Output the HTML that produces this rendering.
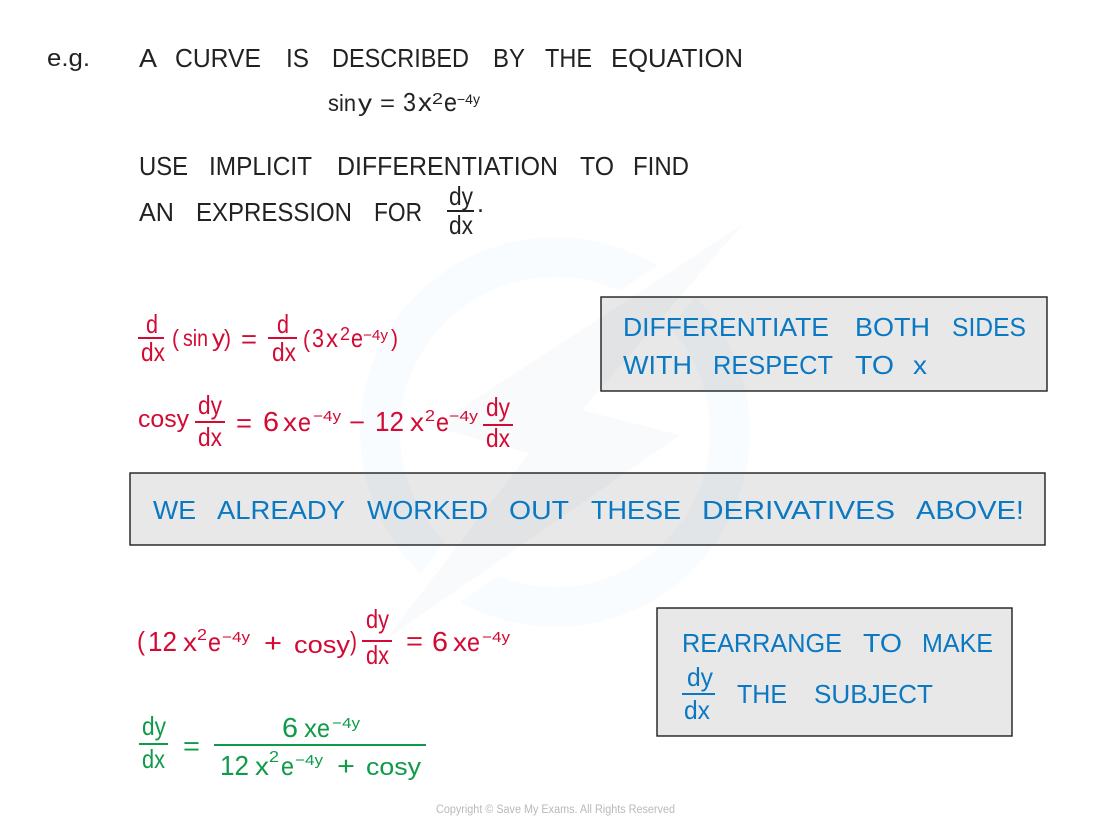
<!DOCTYPE html>
<html lang="en">
<head>
<meta charset="utf-8">
<title>Implicit differentiation example</title>
<style>
html,body{margin:0;padding:0;background:#fff}
svg{display:block}
text{font-family:"Liberation Sans",sans-serif;font-size:26px}
.k{fill:#222}
.r{fill:#d20a34}
.b{fill:#0a78c2}
.g{fill:#0f9b49}
.s{font-size:15px}
.q{font-size:16px}
.c{font-size:11.5px;fill:#b9b9b9}
</style>
</head>
<body>
<svg width="1100" height="832" viewBox="0 0 1100 832" xmlns="http://www.w3.org/2000/svg">
<defs>
<mask id="m" maskUnits="userSpaceOnUse" x="0" y="0" width="1100" height="832">
<rect width="1100" height="832" fill="#fff"/>
<polygon points="742,225 433,427 529,453 385,640 680,435 582,410" fill="#000" stroke="#000" stroke-width="24" stroke-linejoin="round"/>
</mask>
</defs>

<rect x="601" y="297" width="446" height="94" fill="#e8e8e8" stroke="#1e1e1e" stroke-width="1.4"/>
<rect x="130" y="473" width="915" height="72" fill="#e8e8e8" stroke="#1e1e1e" stroke-width="1.4"/>
<rect x="657" y="608" width="355" height="128" fill="#e8e8e8" stroke="#1e1e1e" stroke-width="1.4"/>

<circle cx="555" cy="432" r="175" fill="none" stroke="#0078c8" stroke-opacity=".022" stroke-width="40" mask="url(#m)"/>
<polygon points="742,225 433,427 529,453 385,640 680,435 582,410" fill="#003040" fill-opacity=".022"/>

<g class="k">
<text x="47" y="66" textLength="43" lengthAdjust="spacingAndGlyphs" style="font-size:24px">e.g.</text>
<text x="139" y="67" textLength="18" lengthAdjust="spacingAndGlyphs">A</text>
<text x="175" y="67" textLength="86" lengthAdjust="spacingAndGlyphs">CURVE</text>
<text x="286" y="67" textLength="23" lengthAdjust="spacingAndGlyphs">IS</text>
<text x="332" y="67" textLength="137" lengthAdjust="spacingAndGlyphs">DESCRIBED</text>
<text x="493" y="67" textLength="32" lengthAdjust="spacingAndGlyphs">BY</text>
<text x="545" y="67" textLength="47" lengthAdjust="spacingAndGlyphs">THE</text>
<text x="611" y="67" textLength="132" lengthAdjust="spacingAndGlyphs">EQUATION</text>

<text x="328" y="111" textLength="28" lengthAdjust="spacingAndGlyphs" style="font-size:23px">sin</text>
<text x="358" y="111" textLength="14" lengthAdjust="spacingAndGlyphs" style="font-size:23px">y</text>
<text x="380" y="111" textLength="15" lengthAdjust="spacingAndGlyphs" style="font-size:23px">=</text>
<text x="403" y="111" textLength="13" lengthAdjust="spacingAndGlyphs">3</text>
<text x="418" y="111" textLength="14" lengthAdjust="spacingAndGlyphs">x</text>
<text x="432" y="104" textLength="11" lengthAdjust="spacingAndGlyphs" class="q">2</text>
<text x="444" y="111" textLength="13" lengthAdjust="spacingAndGlyphs">e</text>
<text x="457" y="104" textLength="23" lengthAdjust="spacingAndGlyphs" style="font-size:14px">−4y</text>

<text x="139" y="175" textLength="49" lengthAdjust="spacingAndGlyphs">USE</text>
<text x="209" y="175" textLength="103" lengthAdjust="spacingAndGlyphs">IMPLICIT</text>
<text x="337" y="175" textLength="221" lengthAdjust="spacingAndGlyphs">DIFFERENTIATION</text>
<text x="580" y="175" textLength="34" lengthAdjust="spacingAndGlyphs">TO</text>
<text x="633" y="175" textLength="56" lengthAdjust="spacingAndGlyphs">FIND</text>

<text x="139" y="221" textLength="35" lengthAdjust="spacingAndGlyphs">AN</text>
<text x="196" y="221" textLength="156" lengthAdjust="spacingAndGlyphs">EXPRESSION</text>
<text x="374" y="221" textLength="48" lengthAdjust="spacingAndGlyphs">FOR</text>
<text x="449" y="205" textLength="24" lengthAdjust="spacingAndGlyphs">dy</text>
<rect x="447" y="210" width="27" height="2"/>
<text x="449" y="234" textLength="24" lengthAdjust="spacingAndGlyphs">dx</text>
<text x="477" y="212" textLength="7" lengthAdjust="spacingAndGlyphs">.</text>
</g>

<g class="r">
<text x="146" y="333" textLength="12" lengthAdjust="spacingAndGlyphs">d</text>
<rect x="138" y="337" width="26" height="2"/>
<text x="141" y="361" textLength="24" lengthAdjust="spacingAndGlyphs">dx</text>
<text x="172" y="346" textLength="7" lengthAdjust="spacingAndGlyphs" style="font-size:23px">(</text>
<text x="183" y="346" textLength="25" lengthAdjust="spacingAndGlyphs" style="font-size:23px">sin</text>
<text x="212" y="346" textLength="13" lengthAdjust="spacingAndGlyphs" style="font-size:23px">y</text>
<text x="224" y="346" textLength="7" lengthAdjust="spacingAndGlyphs" style="font-size:23px">)</text>
<text x="241" y="348" textLength="16" lengthAdjust="spacingAndGlyphs">=</text>
<text x="277" y="333" textLength="12" lengthAdjust="spacingAndGlyphs">d</text>
<rect x="268" y="337" width="29" height="2"/>
<text x="272" y="361" textLength="24" lengthAdjust="spacingAndGlyphs">dx</text>
<text x="303" y="347" textLength="7" lengthAdjust="spacingAndGlyphs" style="font-size:23px">(</text>
<text x="312" y="347" textLength="12" lengthAdjust="spacingAndGlyphs">3</text>
<text x="326" y="347" textLength="12" lengthAdjust="spacingAndGlyphs">x</text>
<text x="340" y="340" textLength="10" lengthAdjust="spacingAndGlyphs" style="font-size:18px">2</text>
<text x="351" y="347" textLength="12" lengthAdjust="spacingAndGlyphs">e</text>
<text x="363" y="340" textLength="25" lengthAdjust="spacingAndGlyphs" class="s">−4y</text>
<text x="391" y="346" textLength="7" lengthAdjust="spacingAndGlyphs" style="font-size:23px">)</text>

<text x="138" y="427" textLength="51" lengthAdjust="spacingAndGlyphs" style="font-size:24px">cosy</text>
<text x="198" y="414" textLength="24" lengthAdjust="spacingAndGlyphs">dy</text>
<rect x="195" y="421" width="30" height="2"/>
<text x="198" y="446" textLength="24" lengthAdjust="spacingAndGlyphs">dx</text>
<text x="236" y="432" textLength="16" lengthAdjust="spacingAndGlyphs">=</text>
<text x="263" y="431" textLength="16" lengthAdjust="spacingAndGlyphs" style="font-size:28px">6</text>
<text x="283" y="431" textLength="14" lengthAdjust="spacingAndGlyphs">x</text>
<text x="298" y="431" textLength="13" lengthAdjust="spacingAndGlyphs">e</text>
<text x="313" y="421" textLength="28" lengthAdjust="spacingAndGlyphs" class="s">−4y</text>
<text x="349" y="431" textLength="16" lengthAdjust="spacingAndGlyphs">−</text>
<text x="375" y="431" textLength="29" lengthAdjust="spacingAndGlyphs" style="font-size:28px">12</text>
<text x="410" y="431" textLength="14" lengthAdjust="spacingAndGlyphs">x</text>
<text x="425" y="421" textLength="10" lengthAdjust="spacingAndGlyphs" class="q">2</text>
<text x="436" y="431" textLength="13" lengthAdjust="spacingAndGlyphs">e</text>
<text x="449" y="421" textLength="29" lengthAdjust="spacingAndGlyphs" class="s">−4y</text>
<text x="486" y="416" textLength="24" lengthAdjust="spacingAndGlyphs">dy</text>
<rect x="483" y="424" width="30" height="2"/>
<text x="486" y="447" textLength="24" lengthAdjust="spacingAndGlyphs">dx</text>

<text x="137" y="650" textLength="8" lengthAdjust="spacingAndGlyphs">(</text>
<text x="148" y="651" textLength="29" lengthAdjust="spacingAndGlyphs" style="font-size:28px">12</text>
<text x="183" y="651" textLength="14" lengthAdjust="spacingAndGlyphs">x</text>
<text x="197" y="640" textLength="10" lengthAdjust="spacingAndGlyphs" class="q">2</text>
<text x="208" y="651" textLength="13" lengthAdjust="spacingAndGlyphs">e</text>
<text x="222" y="642" textLength="28" lengthAdjust="spacingAndGlyphs" class="s">−4y</text>
<text x="264" y="652" textLength="18" lengthAdjust="spacingAndGlyphs">+</text>
<text x="294" y="653" textLength="56" lengthAdjust="spacingAndGlyphs" style="font-size:24px">cosy</text>
<text x="350" y="650" textLength="7" lengthAdjust="spacingAndGlyphs">)</text>
<text x="366" y="628" textLength="23" lengthAdjust="spacingAndGlyphs">dy</text>
<rect x="362" y="640" width="30" height="2"/>
<text x="366" y="664" textLength="23" lengthAdjust="spacingAndGlyphs">dx</text>
<text x="406" y="650" textLength="17" lengthAdjust="spacingAndGlyphs">=</text>
<text x="432" y="651" textLength="16" lengthAdjust="spacingAndGlyphs" style="font-size:28px">6</text>
<text x="453" y="651" textLength="14" lengthAdjust="spacingAndGlyphs">x</text>
<text x="467" y="651" textLength="13" lengthAdjust="spacingAndGlyphs">e</text>
<text x="482" y="642" textLength="28" lengthAdjust="spacingAndGlyphs" class="s">−4y</text>
</g>

<g class="g">
<text x="142" y="735" textLength="24" lengthAdjust="spacingAndGlyphs">dy</text>
<rect x="139" y="743" width="29" height="2"/>
<text x="142" y="768" textLength="23" lengthAdjust="spacingAndGlyphs">dx</text>
<text x="183" y="755" textLength="17" lengthAdjust="spacingAndGlyphs">=</text>
<text x="282" y="737" textLength="16" lengthAdjust="spacingAndGlyphs" style="font-size:28px">6</text>
<text x="304" y="737" textLength="13" lengthAdjust="spacingAndGlyphs">x</text>
<text x="317" y="737" textLength="13" lengthAdjust="spacingAndGlyphs">e</text>
<text x="332" y="728" textLength="28" lengthAdjust="spacingAndGlyphs" class="s">−4y</text>
<rect x="214" y="744" width="212" height="2"/>
<text x="220" y="775" textLength="29" lengthAdjust="spacingAndGlyphs" style="font-size:28px">12</text>
<text x="255" y="775" textLength="14" lengthAdjust="spacingAndGlyphs">x</text>
<text x="269" y="762" textLength="10" lengthAdjust="spacingAndGlyphs" class="q">2</text>
<text x="281" y="775" textLength="13" lengthAdjust="spacingAndGlyphs">e</text>
<text x="295" y="765" textLength="28" lengthAdjust="spacingAndGlyphs" class="s">−4y</text>
<text x="337" y="775" textLength="18" lengthAdjust="spacingAndGlyphs">+</text>
<text x="366" y="775" textLength="55" lengthAdjust="spacingAndGlyphs" style="font-size:24px">cosy</text>
</g>

<g class="b">
<text x="623" y="336" textLength="206" lengthAdjust="spacingAndGlyphs">DIFFERENTIATE</text>
<text x="855" y="336" textLength="75" lengthAdjust="spacingAndGlyphs">BOTH</text>
<text x="952" y="336" textLength="74" lengthAdjust="spacingAndGlyphs">SIDES</text>
<text x="623" y="374" textLength="69" lengthAdjust="spacingAndGlyphs">WITH</text>
<text x="713" y="374" textLength="120" lengthAdjust="spacingAndGlyphs">RESPECT</text>
<text x="855" y="374" textLength="39" lengthAdjust="spacingAndGlyphs">TO</text>
<text x="913" y="374" textLength="14" lengthAdjust="spacingAndGlyphs">x</text>

<text x="153" y="519" textLength="43" lengthAdjust="spacingAndGlyphs">WE</text>
<text x="217" y="519" textLength="128" lengthAdjust="spacingAndGlyphs">ALREADY</text>
<text x="367" y="519" textLength="121" lengthAdjust="spacingAndGlyphs">WORKED</text>
<text x="509" y="519" textLength="60" lengthAdjust="spacingAndGlyphs">OUT</text>
<text x="591" y="519" textLength="90" lengthAdjust="spacingAndGlyphs">THESE</text>
<text x="702" y="519" textLength="193" lengthAdjust="spacingAndGlyphs">DERIVATIVES</text>
<text x="916" y="519" textLength="108" lengthAdjust="spacingAndGlyphs">ABOVE!</text>

<text x="682" y="652" textLength="160" lengthAdjust="spacingAndGlyphs">REARRANGE</text>
<text x="863" y="652" textLength="39" lengthAdjust="spacingAndGlyphs">TO</text>
<text x="922" y="652" textLength="71" lengthAdjust="spacingAndGlyphs">MAKE</text>
<text x="687" y="686" textLength="26" lengthAdjust="spacingAndGlyphs">dy</text>
<rect x="682" y="693" width="33" height="2"/>
<text x="684" y="719" textLength="26" lengthAdjust="spacingAndGlyphs">dx</text>
<text x="737" y="703" textLength="50" lengthAdjust="spacingAndGlyphs">THE</text>
<text x="814" y="703" textLength="119" lengthAdjust="spacingAndGlyphs">SUBJECT</text>
</g>

<text x="436" y="813" textLength="239" lengthAdjust="spacingAndGlyphs" class="c">Copyright © Save My Exams. All Rights Reserved</text>
</svg>
</body>
</html>
